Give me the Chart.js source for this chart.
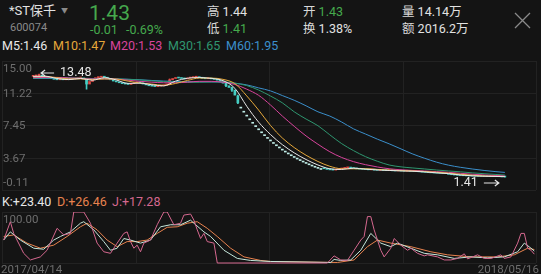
<!DOCTYPE html>
<html>
<head>
<meta charset="utf-8">
<script src="https://cdn.jsdelivr.net/npm/chart.js@4.4.1/dist/chart.umd.min.js"></script>
<style>
html, body { margin: 0; padding: 0; background: #141414; width: 541px; height: 274px; overflow: hidden;
  font-family: Roboto, "Noto Sans CJK SC", sans-serif; }
.t { position: absolute; white-space: nowrap; line-height: 1; }
.w { color: #e2e2e2; }
.g { color: #45a94d; }
.l { color: #d8d8d8; font-size: 12.5px; }
.m { font-size: 12.5px; top: 40px; }
.k { font-size: 12.5px; top: 196px; }
#main { position: absolute; left: 0; top: 61px; }
#kdj { position: absolute; left: 0; top: 212px; }
</style>
</head>
<body>
<div class="t w" style="left:9px;top:4px;font-size:13px">*ST保千</div>
<div class="t" style="left:61px;top:8px;font-size:7px;color:#8a8a8a">▼</div>
<div class="t" style="left:10px;top:22px;font-size:11px;color:#8a8a8a">600074</div>
<div class="t g" style="left:89px;top:3px;font-size:21px">1.43</div>
<div class="t g" style="left:90px;top:24px;font-size:12.5px">-0.01</div>
<div class="t g" style="left:126px;top:24px;font-size:12.5px">-0.69%</div>
<div class="t l" style="left:207px;top:6px">高 <span class="w">1.44</span></div>
<div class="t l" style="left:207px;top:23px">低 <span class="g">1.41</span></div>
<div class="t l" style="left:303px;top:6px">开 <span class="g">1.43</span></div>
<div class="t l" style="left:303px;top:23px">换 <span class="w">1.38%</span></div>
<div class="t l" style="left:402px;top:6px">量 <span class="w">14.14万</span></div>
<div class="t l" style="left:402px;top:23px">额 <span class="w">2016.2万</span></div>
<svg class="t" style="left:514px;top:12px" width="17" height="17"><path d="M1 1L16 16M16 1L1 16" stroke="#8a8a8a" stroke-width="1.3"/></svg>

<div class="t m" style="left:2px;color:#e8e8e8">M5:1.46</div>
<div class="t m" style="left:53px;color:#e6a83b">M10:1.47</div>
<div class="t m" style="left:110px;color:#d8449c">M20:1.53</div>
<div class="t m" style="left:168px;color:#2f9670">M30:1.65</div>
<div class="t m" style="left:226px;color:#3b8fcb">M60:1.95</div>

<div class="t k" style="left:2px;color:#e8e8e8">K:+23.40</div>
<div class="t k" style="left:57px;color:#e8834f">D:+26.46</div>
<div class="t k" style="left:112px;color:#d5688f">J:+17.28</div>

<canvas id="main" width="541" height="130"></canvas>
<canvas id="kdj" width="541" height="62"></canvas>

<script>
// daily candles, index 0 = 2017/04/14, last = 2018/05/16
const open = [
  13.20, 13.25, 13.28, 13.35, 13.20, 13.10, 13.00, 12.95, 12.85, 12.80,
  12.85, 12.80, 12.82, 12.85, 12.90, 12.95, 13.00, 13.02, 12.90, 12.30,
  12.60, 12.85, 13.05, 13.10, 13.15, 13.10, 12.95, 12.80, 12.65, 12.55,
  12.45, 12.35, 12.30, 12.25, 12.35, 12.45, 12.50, 12.45, 12.30, 12.20,
  12.10, 12.05, 12.00, 12.05, 12.10, 12.20, 12.30, 12.80, 12.95, 13.05,
  13.00, 12.95, 12.90, 13.00, 13.05, 13.10, 13.12, 13.05, 12.98, 12.92,
  12.95, 12.90, 12.85, 12.75, 12.60, 12.40, 12.10, 11.90, 11.60, 10.90,
  9.60, 9.12, 8.66, 8.23, 7.82, 7.43, 7.06, 6.71, 6.37, 6.05,
  5.75, 5.46, 5.19, 4.93, 4.68, 4.45, 4.23, 4.02, 3.82, 3.63,
  3.45, 3.28, 3.12, 2.96, 2.81, 2.67, 2.54, 2.41, 2.43, 2.37,
  2.30, 2.25, 2.22, 2.28, 2.35, 2.42, 2.48, 2.50, 2.46, 2.40,
  2.36, 2.32, 2.30, 2.27, 2.25, 2.26, 2.22, 2.20, 2.21, 2.18,
  2.16, 2.17, 2.14, 2.12, 2.13, 2.11, 2.09, 2.10, 2.08, 2.06,
  2.05, 2.02, 1.98, 1.95, 1.92, 1.90, 1.88, 1.86, 1.84, 1.82,
  1.80, 1.72, 1.68, 1.64, 1.61, 1.58, 1.56, 1.54, 1.53, 1.52,
  1.51, 1.50, 1.49, 1.48, 1.47, 1.46, 1.48, 1.47, 1.52, 1.43
];
const close = [
  13.25, 13.30, 13.35, 13.20, 13.10, 13.00, 12.95, 12.85, 12.80, 12.85,
  12.80, 12.82, 12.85, 12.90, 12.95, 13.00, 13.02, 12.90, 12.30, 12.60,
  12.85, 13.05, 13.10, 13.15, 13.10, 12.95, 12.80, 12.65, 12.55, 12.45,
  12.35, 12.30, 12.25, 12.35, 12.45, 12.50, 12.45, 12.30, 12.20, 12.10,
  12.05, 12.00, 12.05, 12.10, 12.20, 12.30, 12.80, 12.95, 13.05, 13.00,
  12.95, 12.90, 13.00, 13.05, 13.10, 13.12, 13.05, 12.98, 12.92, 12.95,
  12.90, 12.85, 12.75, 12.60, 12.40, 12.10, 11.90, 11.60, 11.00, 10.10,
  9.60, 9.12, 8.66, 8.23, 7.82, 7.43, 7.06, 6.71, 6.37, 6.05,
  5.75, 5.46, 5.19, 4.93, 4.68, 4.45, 4.23, 4.02, 3.82, 3.63,
  3.45, 3.28, 3.12, 2.96, 2.81, 2.67, 2.54, 2.41, 2.38, 2.30,
  2.25, 2.22, 2.28, 2.35, 2.42, 2.48, 2.50, 2.46, 2.40, 2.36,
  2.32, 2.30, 2.27, 2.25, 2.26, 2.22, 2.20, 2.21, 2.18, 2.16,
  2.17, 2.14, 2.12, 2.13, 2.11, 2.09, 2.10, 2.08, 2.06, 2.05,
  2.02, 1.98, 1.95, 1.92, 1.90, 1.88, 1.86, 1.84, 1.82, 1.80,
  1.72, 1.68, 1.64, 1.61, 1.58, 1.56, 1.54, 1.53, 1.52, 1.51,
  1.50, 1.49, 1.48, 1.47, 1.46, 1.48, 1.47, 1.52, 1.42, 1.41
];
// visible shadows only
const wickDay  = [2, 18, 46, 65, 67, 69, 159];
const wickLow  = [13.20, 11.70, 12.25, 12.00, 11.45, 10.00, 1.41];
const wickHigh = [13.48, 12.95, 12.90, 12.45, 11.95, 11.00, 1.44];

// moving averages, read every 4th day
const maDays = [0,4,8,12,16,20,24,28,32,36,40,44,48,52,56,60,64,68,72,76,80,84,88,92,96,100,104,108,112,116,120,124,128,132,136,140,144,148,152,156,159];
const ma5 = [13.20,13.22,12.95,12.82,12.95,12.75,13.05,12.78,12.38,12.40,12.22,12.08,12.65,12.98,13.06,12.96,12.70,11.80,9.70,7.84,6.39,5.20,4.24,3.46,2.82,2.38,2.30,2.45,2.33,2.24,2.18,2.13,2.09,2.01,1.90,1.81,1.65,1.55,1.50,1.47,1.46];
const ma10 = [13.15,13.18,13.05,12.90,12.90,12.82,12.90,12.88,12.64,12.42,12.30,12.15,12.37,12.72,13.00,13.00,12.85,12.35,10.91,9.25,7.45,5.98,4.86,3.96,3.23,2.67,2.38,2.37,2.39,2.30,2.22,2.16,2.12,2.06,1.97,1.87,1.74,1.62,1.53,1.49,1.47];
const ma20 = [13.05,13.08,13.08,13.02,12.95,12.90,12.92,12.88,12.75,12.62,12.52,12.45,12.45,12.52,12.62,12.62,12.52,12.25,11.70,10.98,9.85,8.55,7.35,6.22,5.25,4.37,3.70,3.21,2.86,2.59,2.38,2.26,2.18,2.12,2.04,1.96,1.85,1.74,1.65,1.58,1.53];
const ma30 = [13.00,13.02,13.03,13.02,12.98,12.95,12.93,12.90,12.85,12.78,12.68,12.58,12.52,12.50,12.52,12.55,12.55,12.40,12.12,11.60,10.90,10.10,9.05,8.20,7.42,6.35,5.32,4.50,3.80,3.26,2.82,2.60,2.47,2.35,2.23,2.12,2.02,1.90,1.80,1.71,1.65];
const ma60 = [12.95,12.96,12.97,12.97,12.96,12.95,12.93,12.90,12.86,12.80,12.72,12.65,12.60,12.58,12.56,12.55,12.52,12.40,12.20,11.85,11.50,10.95,10.40,9.75,9.05,8.55,7.85,7.05,6.45,5.85,5.30,4.70,4.10,3.60,3.15,2.80,2.55,2.35,2.18,2.04,1.95];

// KDJ vertices (day index, value)
const kDays = [0,2,5,9,12,15,17,20,23,24,27,30,32,34,36,38,41,44,47,50,53,56,57,60,62,66,70,74,80,98,99,101,104,107,110,113,116,118,122,126,130,135,140,145,150,154,156,158,159];
const kVals = [45,61,45,29,27,45,52,61,78,81,65,42,25,29,48,45,39,45,71,75,75,84,78,61,52,25,9,5,3,1,7,5,6,25,58,39,32,39,29,19,16,9,12,10,12,22,39,29,23.40];
const dDays = [0,3,7,11,15,19,23,25,28,31,34,37,40,43,46,49,52,55,58,61,64,68,72,77,80,100,105,109,112,116,122,128,133,140,148,153,157,159];
const dVals = [52,55,39,29,35,52,71,78,65,45,32,42,42,45,58,70,71,78,81,68,52,29,12,5,3,1,6,32,45,39,32,22,16,12,12,16,29,26.46];
const jDays = [0,2,3,6,8,11,13,16,18,20,21,24,26,28,30,32,34,36,37,38,39,40,41,42,44,46,48,49,51,53,54,56,57,58,59,60,61,63,64,97,99,101,103,105,107,108,109,110,111,113,114,116,117,119,121,122,124,126,127,130,132,134,136,138,139,142,144,146,149,150,152,154,155,156,157,158,159];
const jVals = [45,81,58,19,6,12,25,68,55,58,100,100,78,39,22,19,39,58,61,42,29,35,22,39,45,75,100,100,75,78,94,96,84,65,48,58,42,39,0,0,14,6,5,25,45,52,91,91,65,25,12,29,48,35,25,29,19,14,16,12,6,6,9,18,8,16,9,9,16,9,12,39,58,58,29,25,17.28];

const priceTicks = ['15.00', '11.22', '7.45', '3.67', '-0.11'];
const kdjTicks = ['100.00'];
const dateLabels = ['2017/04/14', '2018/05/16'];

const RED = '#e24c46', CYAN = '#46cdc3', FLAT = '#bfece6';
const GRID = '#222222', LABEL = '#6e6e6e';
const nDays = close.length;

const candleColor = close.map((c, i) => c > open[i] ? RED : (c < open[i] ? CYAN : FLAT));
const bodies = close.map((c, i) => ({x: i, y: [open[i], c]}));
const wicks = wickDay.map((d, k) => ({x: d, y: [wickLow[k], wickHigh[k]]}));

function pts(days, vals) {
    return days.map((d, k) => ({x: d, y: vals[k]}));
}

function lineSet(days, vals, color, smooth) {
    return {
        type: 'line', data: pts(days, vals), borderColor: color, borderWidth: 1,
        pointRadius: 0, fill: false, order: 0,
        cubicInterpolationMode: smooth ? 'monotone' : 'default', tension: 0,
        clip: {left: 0, right: 0, top: 2, bottom: 2},
    };
}

// grid lines in the plot area
const gridPlugin = {
    id: 'grid',
    beforeDatasetsDraw(chart, args, opts) {
        const {ctx, chartArea: a, scales: {y}} = chart;
        ctx.save();
        ctx.strokeStyle = GRID;
        ctx.lineWidth = 1;
        ctx.beginPath();
        opts.rows.forEach(v => {
            const py = Math.round(y.getPixelForValue(v)) + 0.5;
            ctx.moveTo(a.left, py); ctx.lineTo(a.right, py);
        });
        for (let k = 0; k <= 4; k++) {
            const px = Math.round(a.left + (a.right - a.left) * k / 4) + 0.5;
            ctx.moveTo(px, a.top); ctx.lineTo(px, a.bottom);
        }
        ctx.stroke();
        ctx.restore();
    }
};

function arrow(ctx, x0, x1, y) {
    // line from x0 to x1, head at x1
    const dir = x1 > x0 ? 1 : -1;
    ctx.beginPath();
    ctx.moveTo(x0, y); ctx.lineTo(x1, y);
    ctx.moveTo(x1 - dir * 4, y - 3); ctx.lineTo(x1, y); ctx.lineTo(x1 - dir * 4, y + 3);
    ctx.stroke();
}

const priceLabels = {
    id: 'priceLabels',
    afterDraw(chart) {
        const {ctx, chartArea: a, scales: {x, y}} = chart;
        ctx.save();
        ctx.font = '11.5px Roboto';
        ctx.fillStyle = LABEL;
        priceTicks.forEach((t, k) => {
            const py = y.getPixelForValue(parseFloat(t));
            if (k === 0) { ctx.textBaseline = 'top'; ctx.fillText(t, 3, py + 2); }
            else if (k === priceTicks.length - 1) { ctx.textBaseline = 'bottom'; ctx.fillText(t, 3, py - 1); }
            else { ctx.textBaseline = 'middle'; ctx.fillText(t, 3, py + 1); }
        });
        // highest and lowest price markers
        const hi = Math.max(...wickHigh), hiDay = wickDay[wickHigh.indexOf(hi)];
        const lo = Math.min(...wickLow), loDay = wickDay[wickLow.lastIndexOf(lo)];
        ctx.strokeStyle = '#e6e6e6';
        ctx.fillStyle = '#e6e6e6';
        ctx.lineWidth = 1.2;
        ctx.font = '12.5px Roboto';
        ctx.textBaseline = 'middle';
        let px = x.getPixelForValue(hiDay), py = y.getPixelForValue(hi) - 1;
        arrow(ctx, px + 15, px + 2, py);
        ctx.textAlign = 'left';
        ctx.fillText(hi.toFixed(2), px + 21, py);
        px = x.getPixelForValue(loDay); py = y.getPixelForValue(lo) + 6;
        arrow(ctx, px - 21, px - 6, py);
        ctx.textAlign = 'right';
        ctx.fillText(lo.toFixed(2), px - 27, py);
        ctx.restore();
    }
};

new Chart(document.getElementById('main'), {
    type: 'bar',
    data: {
        datasets: [
            lineSet(maDays, ma5, '#e8e8e8', true),
            lineSet(maDays, ma10, '#e6a83b', true),
            lineSet(maDays, ma20, '#d8449c', true),
            lineSet(maDays, ma30, '#2f9670', true),
            lineSet(maDays, ma60, '#3b8fcb', true),
            {type: 'bar', data: bodies, backgroundColor: candleColor, barThickness: 2,
             minBarLength: 1, grouped: false, order: 1},
            {type: 'bar', data: wicks, backgroundColor: wickDay.map(d => candleColor[d]),
             barThickness: 1, grouped: false, order: 2},
        ]
    },
    options: {
        responsive: false,
        animation: false,
        events: [],
        layout: {padding: {left: 2, right: 5, top: 0, bottom: 1}},
        plugins: {legend: {display: false}, tooltip: {enabled: false}, grid: {rows: priceTicks.map(Number)}},
        scales: {
            x: {type: 'linear', min: -0.5, max: nDays - 0.5, display: false},
            y: {min: Number(priceTicks[priceTicks.length - 1]), max: Number(priceTicks[0]), display: false},
        },
    },
    plugins: [gridPlugin, priceLabels],
});

const kdjLabels = {
    id: 'kdjLabels',
    afterDraw(chart) {
        const {ctx, chartArea: a, scales: {y}} = chart;
        ctx.save();
        ctx.font = '11.5px Roboto';
        ctx.fillStyle = LABEL;
        ctx.textBaseline = 'top';
        ctx.fillText(kdjTicks[0], 3, y.getPixelForValue(parseFloat(kdjTicks[0])) + 2);
        ctx.fillText(dateLabels[0], 1, a.bottom + 1);
        ctx.textAlign = 'right';
        ctx.fillText(dateLabels[1], 539, a.bottom + 1);
        ctx.restore();
    }
};

new Chart(document.getElementById('kdj'), {
    type: 'line',
    data: {
        datasets: [
            lineSet(jDays, jVals, '#d5688f', false),
            lineSet(kDays, kVals, '#c6e8dc', false),
            lineSet(dDays, dVals, '#e8834f', false),
        ]
    },
    options: {
        responsive: false,
        animation: false,
        events: [],
        layout: {padding: {left: 2, right: 5, top: 0, bottom: 11}},
        plugins: {legend: {display: false}, tooltip: {enabled: false}, grid: {rows: [0, 100]}},
        scales: {
            x: {type: 'linear', min: -0.5, max: nDays - 0.5, display: false},
            y: {min: 0, max: 100, display: false},
        },
    },
    plugins: [gridPlugin, kdjLabels],
});
</script>
</body>
</html>
